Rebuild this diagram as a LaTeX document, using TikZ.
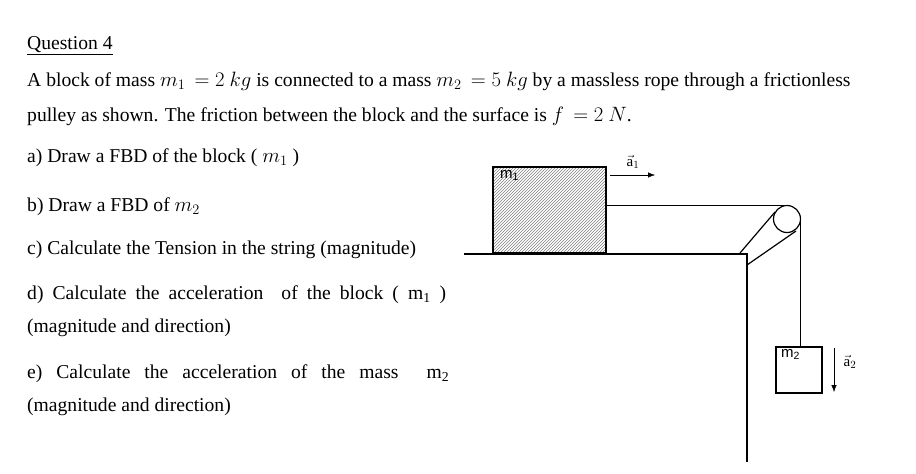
\documentclass[tikz,border=0pt]{standalone}
\usepackage{fontspec}
\setmainfont{Liberation Serif}
\newfontfamily\figfont{Liberation Sans}
\usetikzlibrary{patterns,arrows.meta}
\begin{document}
\begin{tikzpicture}[x=1pt,y=-1pt,
  txt/.style={anchor=west,inner sep=0pt,font=\fontsize{19.6}{22}\selectfont},
  lbl/.style={inner sep=0pt,font=\figfont\fontsize{15}{17}\selectfont},
  ln/.style={line width=1.2pt}]
\useasboundingbox (0,0) rectangle (916,474);
\node[txt] (q) at (27,46) {\underline{Question 4}};
\node[txt] (l1) at (27,81) {A block of mass $m_1\,=2\ kg$ is connected to a mass $m_2\,=5\ kg$ by a massless rope through a frictionless};
\node[txt] (l2) at (27,116) {pulley as shown. The friction between the block and the surface is $f\,=2\ N$.};
\node[txt] (a) at (27,158) {a) Draw a FBD of the block ( $m_1$ )};
\node[txt] (b) at (27,207) {b) Draw a FBD of  $m_2$};
\node[txt] (c) at (27,250) {c) Calculate the Tension in the string  (magnitude)};
\node[txt] (d) at (27,295) {\makebox[419pt][s]{d) Calculate the acceleration \  of the block ( m\textsubscript{1} )}};
\node[txt] (d2) at (27,328) {(magnitude and direction)};
\node[txt] (e) at (27,374) {\makebox[422pt][s]{e) Calculate the acceleration of the mass \ m\textsubscript{2}}};
\node[txt] (e2) at (27,407) {(magnitude and direction)};
% figure
\draw[ln] (464,254) -- (747,254) -- (747,462);
\node[draw,line width=1.5pt,pattern=north east lines,pattern color=gray,minimum width=113pt,minimum height=86pt,inner sep=0pt] (m1) at (549.5,210) {};
\node[lbl,anchor=north west] (m1l) at (500,170) {m\textsubscript{1}};
\node[draw,circle,ln,minimum size=27pt,inner sep=0pt] (p) at (787,219) {};
\coordinate (rt) at (787,205.5);
\coordinate (rr) at (800.5,219);
\draw[ln] (m1.east |- rt) -- (rt);
\draw[ln] (740,253) -- (775,212);
\draw[ln] (747,265) -- (796,231);
\node[draw,ln,minimum width=46pt,minimum height=46pt,inner sep=0pt] (m2) at (799,370) {};
\draw[ln] (rr) -- (rr |- m2.north);
\node[lbl,anchor=north west] (m2l) at (781,349) {m\textsubscript{2}};
\coordinate (a1s) at (610,175); \coordinate (a1e) at (655,175);
\draw[-{Latex[length=7pt]}] (a1s) -- (a1e);
\node[lbl] (a1l) at (633,162) {$\vec{\mathrm{a}}_1$};
\coordinate (a2s) at (834,348); \coordinate (a2e) at (834,392);
\draw[-{Latex[length=7pt]}] (a2s) -- (a2e);
\node[lbl] (a2l) at (850,362) {$\vec{\mathrm{a}}_2$};
\end{tikzpicture}
\end{document}
